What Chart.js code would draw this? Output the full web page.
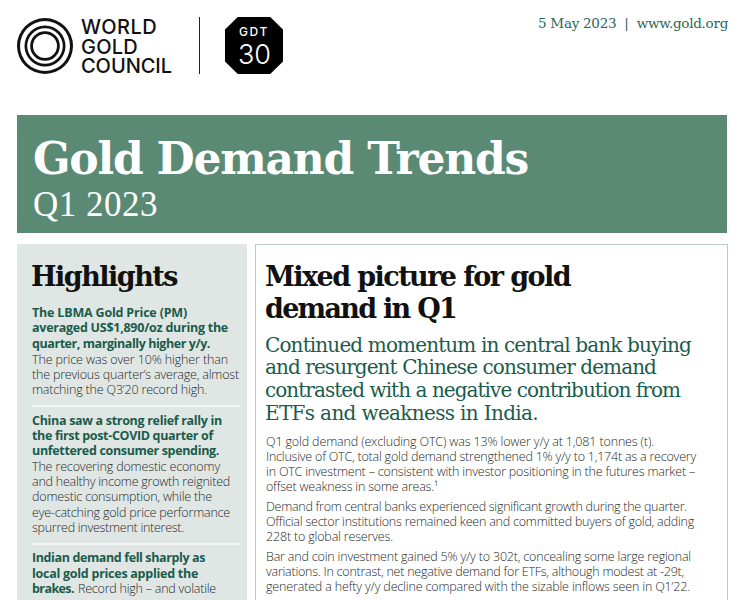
<!DOCTYPE html>
<html>
<head>
  <title>Gold Demand Trends</title>
  <style>
body { margin: 0; background: #fff; overflow: hidden; }
#page { position: relative; width: 749px; height: 600px; overflow: hidden; }
.box { position: absolute; }
.line { position: absolute; white-space: nowrap; line-height: 1; }
.serif { font-family: "DejaVu Serif", serif; }
.thin { font-family: "Liberation Serif", serif; }
.sans { font-family: "Open Sans", "Noto Sans", sans-serif; }
.logo { font-family: Inter, sans-serif; }
  </style>
  <script src="https://cdn.jsdelivr.net/npm/chart.js@4"></script>
</head>
<body>
<div id="page">
  <div style="position:absolute;left:17px;top:18px;width:56px;height:56px;"><canvas id="logoChart" width="56" height="56"></canvas></div>
  <div class="box" style="left:199px;top:17px;width:1px;height:57px;background:#222;"></div>
  <div class="box" style="left:225px;top:17px;width:58px;height:57px;background:#000;clip-path:polygon(22% 0,78% 0,100% 22%,100% 78%,78% 100%,22% 100%,0 78%,0 22%);"></div>
  <div class="box" style="left:17px;top:115px;width:710px;height:118px;background:#5a8a73;"></div>
  <div class="box" style="left:17px;top:244px;width:230px;height:356px;background:#e0e6e4;"></div>
  <div class="box" style="left:255px;top:244px;width:471px;height:370px;border:1.5px solid #b9cbc8;"></div>
  <div class="box" style="left:32px;top:405px;width:208px;height:2px;background:#f3f6f5;"></div>
  <div class="box" style="left:32px;top:543px;width:208px;height:2px;background:#f3f6f5;"></div>
</div>
<script>
// ring thicknesses of the logo from outside in, gaps between them see-through
var ringValues = [3, 4.5, 2.7, 3, 2.8];
var ringColours = ['#111', 'transparent', '#111', 'transparent', '#111'];

var logoLines = ['WORLD', 'GOLD', 'COUNCIL'];
var dateLine = '5 May 2023\u00a0\u00a0|\u00a0\u00a0www.gold.org';
var titleLine = 'Gold Demand Trends';
var quarterLine = 'Q1 2023';
var sideTitle = 'Highlights';
var mainTitle = ['Mixed picture for gold', 'demand in Q1'];
var mainIntro = [
  'Continued momentum in central bank buying',
  'and resurgent Chinese consumer demand',
  'contrasted with a negative contribution from',
  'ETFs and weakness in India.'
];
var sideGreen = [
  'The LBMA Gold Price (PM)',
  'averaged US$1,890/oz during the',
  'quarter, marginally higher y/y.',
  'China saw a strong relief rally in',
  'the first post-COVID quarter of',
  'unfettered consumer spending.',
  'Indian demand fell sharply as',
  'local gold prices applied the',
  'brakes.'
];
var sideGrey = [
  'The price was over 10% higher than',
  'the previous quarter\u2019s average, almost',
  'matching the Q3\u201920 record high.',
  'The recovering domestic economy',
  'and healthy income growth reignited',
  'domestic consumption, while the',
  'eye-catching gold price performance',
  'spurred investment interest.',
  'Record high \u2013 and volatile'
];
var bodyLines = [
  'Q1 gold demand (excluding OTC) was 13% lower y/y at 1,081 tonnes (t).',
  'Inclusive of OTC, total gold demand strengthened 1% y/y to 1,174t as a recovery',
  'in OTC investment \u2013 consistent with investor positioning in the futures market \u2013',
  'offset weakness in some areas.\u00b9',
  'Demand from central banks experienced significant growth during the quarter.',
  'Official sector institutions remained keen and committed buyers of gold, adding',
  '228t to global reserves.',
  'Bar and coin investment gained 5% y/y to 302t, concealing some large regional',
  'variations. In contrast, net negative demand for ETFs, although modest at -29t,',
  'generated a hefty y/y decline compared with the sizable inflows seen in Q1\u201922.'
];

var page = document.getElementById('page');

// put one line of text on the page, stretched to the width
function addLine(text, x, centreY, size, cls, color, weight, targetWidth, alignRight) {
  var el = document.createElement('div');
  el.className = 'line ' + cls;
  el.textContent = text;
  el.style.fontSize = size + 'px';
  el.style.color = color;
  el.style.fontWeight = weight;
  el.style.top = (centreY - size / 2) + 'px';
  page.appendChild(el);
  if (targetWidth) {
    var extra = (targetWidth - el.getBoundingClientRect().width) / text.length;
    el.style.letterSpacing = extra + 'px';
  }
  if (alignRight) {
    el.style.left = (x - el.getBoundingClientRect().width) + 'px';
  } else {
    el.style.left = x + 'px';
  }
}

var GREEN = '#1a5c4b';
var GREY = '#262b2a';

var logoY = [27, 46.5, 66];
var logoW = [76, 57, 91];
logoLines.forEach(function(t, i) {
  addLine(t, 81, logoY[i], 20, 'logo', '#111', 500, logoW[i]);
});
addLine('GDT', 239, 32, 12, 'logo', '#fff', 500, 30);
addLine('30', 238, 54, 27, 'logo', '#fff', 300, 33);
addLine(dateLine, 728, 24, 13.5, 'serif', '#2a6657', 400, 190, true);
addLine(titleLine, 33, 159, 44, 'serif', '#fff', 700, 495);
addLine(quarterLine, 33, 204, 35, 'thin', '#fff', 400, 125);
addLine(sideTitle, 31, 276, 27, 'serif', '#111', 700, 146);

var mainTitleW = [305, 191];
mainTitle.forEach(function(t, i) {
  addLine(t, 265, [276, 308][i], 27, 'serif', '#111', 700, mainTitleW[i]);
});
var introW = [426, 391, 415, 273];
mainIntro.forEach(function(t, i) {
  addLine(t, 265, [345, 367, 390, 413][i], 20, 'serif', GREEN, 400, introW[i]);
});

var sideGreenY = [313, 328, 344, 421, 436, 451, 558, 574, 589];
var sideGreenW = [155, 196, 178, 190, 181, 187, 173, 166, 42];
sideGreen.forEach(function(t, i) {
  addLine(t, 32, sideGreenY[i], 12.5, 'sans', GREEN, 700, sideGreenW[i]);
});
var sideGreyY = [360, 375, 390, 467, 482, 497, 513, 528, 589];
var sideGreyW = [196, 207, 175, 188, 198, 180, 198, 152, 138];
sideGrey.forEach(function(t, i) {
  addLine(t, i == 8 ? 78 : 32, sideGreyY[i], 12.5, 'sans', GREY, 300, sideGreyW[i]);
});

var bodyY = [442, 457, 472, 487, 507, 522, 537, 557, 572, 587];
var bodyW = [388, 430, 429, 172, 421, 428, 127, 425, 418, 424];
bodyLines.forEach(function(t, i) {
  addLine(t, 266, bodyY[i], 12.5, 'sans', GREY, 300, bodyW[i]);
});

// the logo rings are the only round marks on this page, drawn as doughnut rings
var logoCtx = document.getElementById('logoChart').getContext('2d');
var logoChart = new Chart(logoCtx, {
  type: 'doughnut',
  data: {
    labels: ['ring'],
    datasets: ringValues.map(function(v, i) {
      return { data: [1], weight: v, backgroundColor: ringColours[i], borderWidth: 0 };
    })
  },
  options: {
    responsive: false,
    animation: false,
    cutout: 12,
    layout: { padding: 0 },
    plugins: { legend: { display: false }, tooltip: { enabled: false } }
  }
});
</script>
</body>
</html>
